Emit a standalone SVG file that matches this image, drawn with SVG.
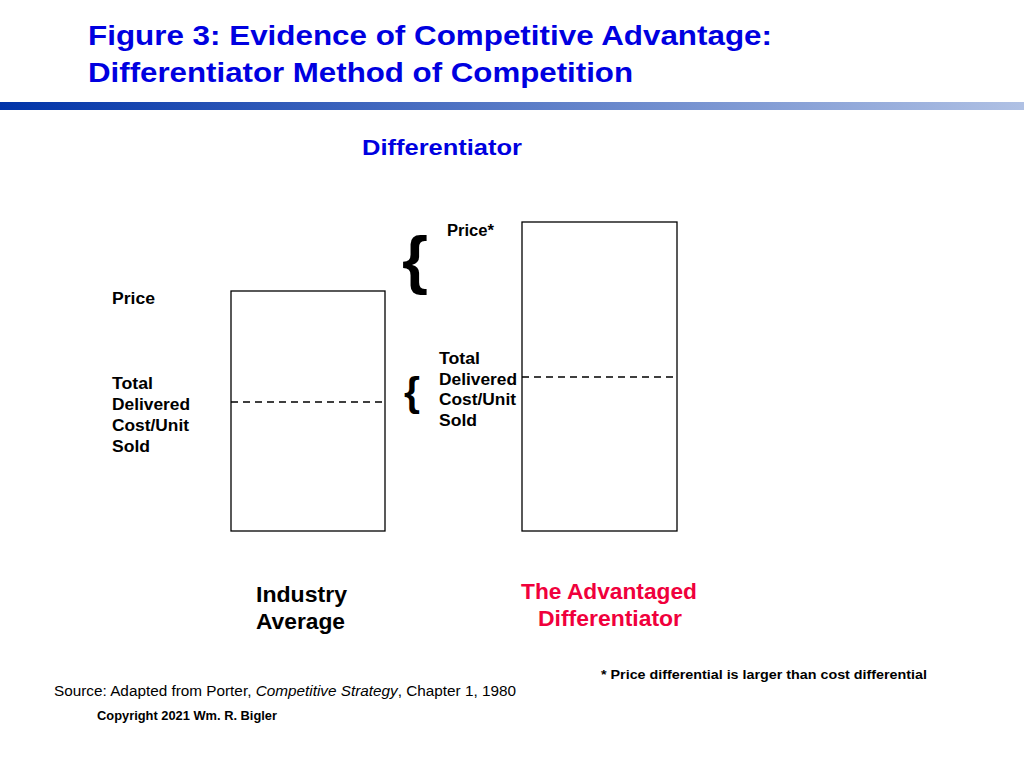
<svg xmlns="http://www.w3.org/2000/svg" width="1024" height="768" viewBox="0 0 1024 768">
<defs>
<linearGradient id="g" x1="0" x2="1" y1="0" y2="0"><stop offset="0" stop-color="#0033a8"/><stop offset="1" stop-color="#b0c1e4"/></linearGradient>
<style>
text{font-family:"Liberation Sans",Arial,sans-serif;font-weight:bold}
.t{fill:#0000e0;font-size:28px}
.l{font-size:16px;fill:#000}
.b{fill:none;stroke:#000;stroke-width:1.3}
.d{stroke:#000;stroke-width:1.3;stroke-dasharray:7,5}
</style>
</defs>
<rect width="1024" height="768" fill="#fff"/>
<text class="t" x="88" y="45" textLength="684" lengthAdjust="spacingAndGlyphs">Figure 3: Evidence of Competitive Advantage:</text>
<text class="t" x="88" y="82" textLength="545" lengthAdjust="spacingAndGlyphs">Differentiator Method of Competition</text>
<rect x="0" y="102" width="1024" height="8" fill="url(#g)"/>
<text x="362" y="155" fill="#0000e0" font-size="22" textLength="160" lengthAdjust="spacingAndGlyphs">Differentiator</text>
<g id="industry">
<rect class="b" x="231" y="291" width="154" height="240"/>
<line class="d" x1="231" y1="402" x2="385" y2="402"/>
<text class="l" x="112" y="304" textLength="43" lengthAdjust="spacingAndGlyphs">Price</text>
<text class="l"><tspan x="112" y="389" textLength="41" lengthAdjust="spacingAndGlyphs">Total</tspan><tspan x="112" y="410" textLength="78" lengthAdjust="spacingAndGlyphs">Delivered</tspan><tspan x="112" y="431" textLength="77" lengthAdjust="spacingAndGlyphs">Cost/Unit</tspan><tspan x="112" y="452" textLength="38" lengthAdjust="spacingAndGlyphs">Sold</tspan></text>
<text x="256" y="602" font-size="22" textLength="91" lengthAdjust="spacingAndGlyphs">Industry</text>
<text x="256" y="629" font-size="22" textLength="89" lengthAdjust="spacingAndGlyphs">Average</text>
</g>
<g id="differentiator">
<rect class="b" x="522" y="222" width="155" height="309"/>
<line class="d" x1="522" y1="377" x2="677" y2="377"/>
<text x="402" y="282" font-size="64" textLength="26" lengthAdjust="spacingAndGlyphs">{</text>
<text class="l" x="447" y="236" textLength="47" lengthAdjust="spacingAndGlyphs">Price*</text>
<text x="404" y="406" font-size="40" textLength="16" lengthAdjust="spacingAndGlyphs">{</text>
<text class="l"><tspan x="439" y="364" textLength="41" lengthAdjust="spacingAndGlyphs">Total</tspan><tspan x="439" y="385" textLength="78" lengthAdjust="spacingAndGlyphs">Delivered</tspan><tspan x="439" y="405" textLength="77" lengthAdjust="spacingAndGlyphs">Cost/Unit</tspan><tspan x="439" y="426" textLength="38" lengthAdjust="spacingAndGlyphs">Sold</tspan></text>
<text x="521" y="599" font-size="22" fill="#f0003c" textLength="176" lengthAdjust="spacingAndGlyphs">The Advantaged</text>
<text x="538" y="626" font-size="22" fill="#f0003c" textLength="144" lengthAdjust="spacingAndGlyphs">Differentiator</text>
</g>
<text x="601" y="679" font-size="13" textLength="326" lengthAdjust="spacingAndGlyphs">* Price differential is larger than cost differential</text>
<text x="54" y="696" font-size="14" style="font-weight:normal" textLength="462" lengthAdjust="spacingAndGlyphs">Source:  Adapted from Porter, <tspan font-style="italic">Competitive Strategy</tspan>, Chapter 1, 1980</text>
<text x="97" y="720" font-size="12" textLength="180" lengthAdjust="spacingAndGlyphs">Copyright 2021 Wm. R. Bigler</text>
</svg>
